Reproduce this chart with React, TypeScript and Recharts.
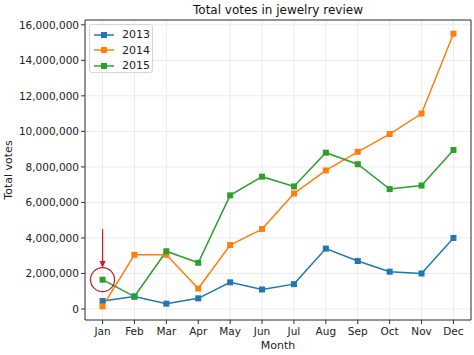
import React from 'react';
import {
  LineChart,
  Line,
  XAxis,
  YAxis,
  CartesianGrid,
  ReferenceArea,
  ReferenceDot,
  ReferenceLine,
} from 'recharts';

// values
const months = ['Jan', 'Feb', 'Mar', 'Apr', 'May', 'Jun', 'Jul', 'Aug', 'Sep', 'Oct', 'Nov', 'Dec'];
const votes2013 = [450000, 700000, 300000, 600000, 1500000, 1100000, 1400000, 3400000, 2700000, 2100000, 2000000, 4000000];
const votes2014 = [150000, 3050000, 3050000, 1150000, 3600000, 4500000, 6500000, 7800000, 8850000, 9850000, 11000000, 15500000];
const votes2015 = [1650000, 700000, 3250000, 2600000, 6400000, 7450000, 6900000, 8800000, 8150000, 6750000, 6950000, 8950000];
const yTicks = [0, 2000000, 4000000, 6000000, 8000000, 10000000, 12000000, 14000000, 16000000];

const series = [
  { key: 'y2013', name: '2013', color: '#1f77b4' },
  { key: 'y2014', name: '2014', color: '#ff7f0e' },
  { key: 'y2015', name: '2015', color: '#2ca02c' },
];

const data = months.map((m, i) => ({
  idx: i,
  month: m,
  y2013: votes2013[i],
  y2014: votes2014[i],
  y2015: votes2015[i],
}));

const X_DOMAIN: [number, number] = [-0.55, 11.55];
const Y_DOMAIN: [number, number] = [-620000, 16270000];

const font = '"DejaVu Sans", sans-serif';

const squareDot = (color: string) => (props: any) => {
  const { cx, cy } = props;
  if (cx == null || cy == null) return <g />;
  return <rect x={cx - 3} y={cy - 3} width={6} height={6} fill={color} />;
};

const arrowHead = (props: any) => {
  const { cx, cy } = props;
  return <polygon points={`${cx - 3},${cy - 7} ${cx + 3},${cy - 7} ${cx},${cy}`} fill="#e8141c" />;
};

const Legend = () => (
  <div
    style={{
      position: 'absolute',
      left: 89,
      top: 24,
      width: 64,
      height: 49,
      background: 'rgba(255,255,255,0.85)',
      border: '1px solid #d6d6d6',
      borderRadius: 3,
      boxSizing: 'border-box',
      fontFamily: font,
      fontSize: 11,
      color: '#222',
    }}
  >
    {series.map((s, i) => (
      <div key={s.key} style={{ position: 'absolute', left: 3, top: 2 + i * 15.5, height: 15, display: 'flex', alignItems: 'center' }}>
        <svg width={22} height={10}>
          <line x1={1} y1={5} x2={21} y2={5} stroke={s.color} strokeWidth={1.5} />
          <rect x={8} y={2} width={6} height={6} fill={s.color} />
        </svg>
        <span style={{ marginLeft: 7 }}>{s.name}</span>
      </div>
    ))}
  </div>
);

export default function App() {
  return (
    <div style={{ position: 'absolute', left: 0, top: 0, width: 474, height: 355, background: '#fff' }}>
      <LineChart width={474} height={355} data={data} margin={{ top: 20, right: 3, left: 0, bottom: 0 }}>
        <CartesianGrid stroke="#ebebeb" strokeWidth={1} />
        <XAxis
          dataKey="idx"
          type="number"
          domain={X_DOMAIN}
          allowDataOverflow
          ticks={months.map((_, i) => i)}
          tickFormatter={(v: number) => months[v]}
          height={35}
          axisLine={false}
          tickLine={{ stroke: '#333' }}
          tickSize={4}
          tickMargin={4}
          tick={{ fontSize: 10.5, fill: '#222', fontFamily: font }}
        />
        <YAxis
          type="number"
          domain={Y_DOMAIN}
          allowDataOverflow
          ticks={yTicks}
          tickFormatter={(v: number) => v.toLocaleString('en-US')}
          width={85}
          axisLine={false}
          tickLine={{ stroke: '#333' }}
          tickSize={4}
          tick={{ fontSize: 10.5, fill: '#222', fontFamily: font }}
        />
        {series.map((s) => (
          <Line
            key={s.key}
            dataKey={s.key}
            name={s.name}
            stroke={s.color}
            strokeWidth={1.5}
            dot={squareDot(s.color)}
            activeDot={false}
            isAnimationActive={false}
          />
        ))}
        <ReferenceArea
          x1={X_DOMAIN[0]}
          x2={X_DOMAIN[1]}
          y1={Y_DOMAIN[0]}
          y2={Y_DOMAIN[1]}
          fill="none"
          stroke="#333"
          strokeWidth={1}
          fillOpacity={0}
        />
        <ReferenceDot x={0} y={votes2015[0]} r={12} fill="none" stroke="#b0202a" strokeWidth={1.2} />
        <ReferenceLine
          segment={[
            { x: 0, y: 4500000 },
            { x: 0, y: 2500000 },
          ]}
          stroke="#e8141c"
          strokeWidth={1.2}
        />
        <ReferenceDot x={0} y={2310000} r={3} shape={arrowHead} />
      </LineChart>
      <Legend />
      <div
        style={{
          position: 'absolute',
          left: 85,
          width: 386,
          top: 3,
          textAlign: 'center',
          fontFamily: font,
          fontSize: 12,
          color: '#111',
        }}
      >
        Total votes in jewelry review
      </div>
      <div
        style={{
          position: 'absolute',
          left: 85,
          width: 386,
          top: 339,
          textAlign: 'center',
          fontFamily: font,
          fontSize: 11,
          color: '#222',
        }}
      >
        Month
      </div>
      <div
        style={{
          position: 'absolute',
          left: 8,
          top: 170,
          transform: 'translate(-50%, -50%) rotate(-90deg)',
          whiteSpace: 'nowrap',
          fontFamily: font,
          fontSize: 11,
          color: '#222',
        }}
      >
        Total votes
      </div>
    </div>
  );
}
